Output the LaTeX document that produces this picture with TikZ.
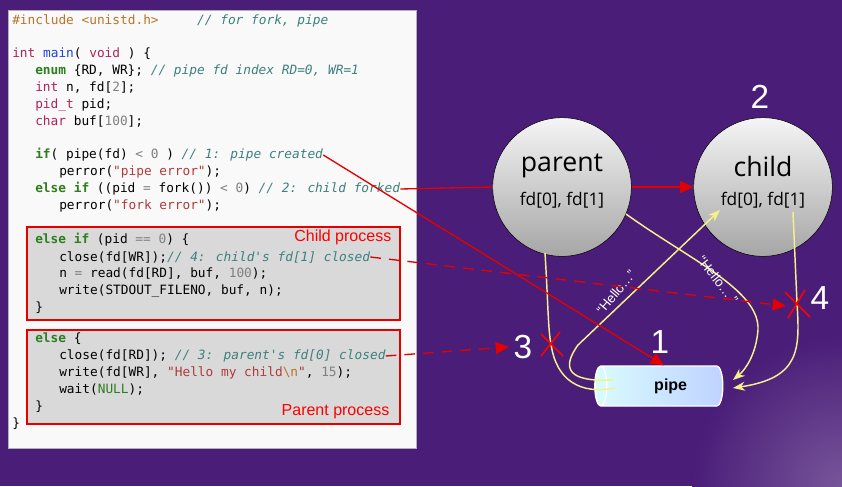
\documentclass[tikz,border=0pt]{standalone}
\usepackage{fontspec}
\setmainfont{Liberation Sans}
\newfontfamily\codefont{DejaVu Sans Mono}
\newfontfamily\lblfont{Open Sans}
\usetikzlibrary{arrows.meta,shapes.geometric}
\definecolor{bgp}{HTML}{4A1D78}
\definecolor{kw}{HTML}{2E7D1E}
\definecolor{ty}{HTML}{B0205A}
\definecolor{cm}{HTML}{3F7F7F}
\definecolor{st}{HTML}{B03A3A}
\definecolor{pp}{HTML}{B8742A}
\definecolor{nu}{HTML}{808080}
\definecolor{fn}{HTML}{2040E0}
\definecolor{yl}{HTML}{F5F08A}
\newcommand{\K}[1]{\textcolor{kw}{\bfseries #1}}
\newcommand{\T}[1]{\textcolor{ty}{#1}}
\newcommand{\C}[1]{\textcolor{cm}{\itshape #1}}
\newcommand{\Sx}[1]{\textcolor{st}{#1}}
\newcommand{\N}[1]{\textcolor{nu}{#1}}
\tikzset{
 code/.style={anchor=west,inner sep=0pt,font=\codefont\fontsize{9.6pt}{11pt}\selectfont},
 proc/.style={circle,draw=black,top color=white!92!gray,bottom color=gray!70,minimum size=104pt,inner sep=0pt},
 ptitle/.style={font=\lblfont\fontsize{20pt}{20pt}\selectfont,inner sep=0pt},
 pfd/.style={font=\lblfont\fontsize{13pt}{13pt}\selectfont,inner sep=0pt},
 redl/.style={draw=red!90!black,line width=1pt},
 yell/.style={draw=yl,line width=1.1pt},
 big/.style={text=white,font=\fontsize{25pt}{25pt}\selectfont},
 xmark/.style={draw=red,line width=1.2pt},
 lbl/.style={text=red,font=\fontsize{12pt}{12pt}\selectfont},
 hello/.style={text=white,font=\fontsize{10pt}{10pt}\selectfont,inner sep=1pt}
}
\begin{document}
\begin{tikzpicture}[x=0.75pt,y=-0.75pt]
\useasboundingbox (0,0) rectangle (842,486);
\fill[bgp] (0,0) rectangle (842,486);
\shade[inner color=bgp!75!white,outer color=bgp] (842,486) circle (150);
\filldraw[fill=white!95!gray,draw=gray!60] (8,10) rectangle (416,448);
\filldraw[fill=gray!30,draw=red!90!black,line width=1pt] (27,227) rectangle (400,320);
\filldraw[fill=gray!30,draw=red!90!black,line width=1pt] (27,330) rectangle (400,424);
\node[lbl,anchor=east] at (396,237) {Child process};
\node[lbl,anchor=east] at (394,412) {Parent process};
% code
\node[code] (l1) at (12,21) {\textcolor{pp}{\#include <unistd.h>}\ \ \ \ \ \C{// for fork, pipe}};
\node[code] at (12,54) {\T{int} \textcolor{fn}{main}( \T{void} ) \{};
\node[code] at (35,71) {\K{enum} \{RD, WR\}; \C{// pipe fd index RD=0, WR=1}};
\node[code] at (35,88) {\T{int} n, fd[\N{2}];};
\node[code] at (35,105) {\T{pid\_t} pid;};
\node[code] at (35,122) {\T{char} buf[\N{100}];};
\node[code] (l6) at (35,155) {\K{if}( pipe(fd) \N{<} \N{0} ) \C{// 1: pipe created}};
\node[code] at (59,172) {perror(\Sx{"pipe error"});};
\node[code] (l8) at (35,189) {\K{else} \K{if} ((pid \N{=} fork()) \N{<} \N{0}) \C{// 2: child forked}};
\node[code] at (59,206) {perror(\Sx{"fork error"});};
\node[code] at (35,240) {\K{else} \K{if} (pid \N{==} \N{0}) \{};
\node[code] (l11) at (59,257) {close(fd[WR]);\C{// 4: child's fd[1] closed}};
\node[code] at (59,274) {n \N{=} read(fd[RD], buf, \N{100});};
\node[code] at (59,291) {write(STDOUT\_FILENO, buf, n);};
\node[code] at (35,308) {\}};
\node[code] at (35,339) {\K{else} \{};
\node[code] (l16) at (59,356) {close(fd[RD]); \C{// 3: parent's fd[0] closed}};
\node[code] at (59,373) {write(fd[WR], \Sx{"Hello my child}\textcolor{pp}{\textbackslash n}\Sx{"}, \N{15});};
\node[code] at (59,390) {wait(\textcolor{kw}{NULL});};
\node[code] at (35,407) {\}};
\node[code] at (12,424) {\}};
% right diagram
\node[proc] (par) at (562,187) {};
\node[ptitle] (part) at (562,166) {parent};
\node[pfd] (parf) at (562,200) {fd[0], fd[1]};
\node[proc] (chi) at (763,187) {};
\node[ptitle] (chit) at (763,166) {child};
\node[pfd] (chif) at (763,200) {fd[0], fd[1]};
\node[cylinder,shape border rotate=180,aspect=0.5,draw=white,line width=1pt,left color=blue!8!cyan!15,right color=cyan!30!blue!25,minimum width=30pt,minimum height=96pt,font=\bfseries\fontsize{12pt}{12pt}\selectfont] (pipe) at (664,386) {\hspace*{10pt}pipe};
\node[big] (n2) at (760,97) {2};
\node[big] (n1) at (660,342) {1};
\node[big] (n3) at (523,347) {3};
\node[big] (n4) at (820,298) {4};
\coordinate (x3) at (551,344);
\coordinate (x4) at (797,303);
% yellow
\draw[yell] (545,253) .. controls (548,300) and (548,330) .. (x3) .. controls (556,380) and (580,395) .. (615,388);
\draw[yell,-{Stealth[length=9pt]}] (613,380) .. controls (570,382) and (560,370) .. (578,345) -- (720,210);
\draw[yell,-{Stealth[length=9pt]}] (626,214) .. controls (690,260) and (760,290) .. (758,330) .. controls (756,355) and (745,370) .. (733,380);
\draw[yell,-{Stealth[length=9pt]}] (793,212) -- (x4) .. controls (800,350) and (800,378) .. (733,388);
\node[hello,rotate=50] (h1) at (616,292) {“Hello…”};
\node[hello,rotate=-52] (h2) at (718,280) {“Hello… ”};
% red
\draw[xmark] (541,334) -- (563,356);
\draw[xmark] (541,356) -- (560,332);
\draw[xmark] (785,292) -- (810,317);
\draw[xmark] (788,318) -- (805,290);
\draw[redl] (l8.east) -- (par.west);
\draw[redl,-{Triangle[length=10pt,width=9pt]}] (par.east) -- (chi.west);
\draw[redl,-{Triangle[length=10pt,width=9pt]}] (l6.east) -- (pipe.north);
\draw[redl,dashed,dash pattern=on 8pt off 6pt,-{Triangle[length=10pt,width=9pt]}] (l11.east) -- (786,306);
\draw[redl,dashed,dash pattern=on 8pt off 6pt,-{Triangle[length=10pt,width=9pt]}] (l16.east) -- (n3.west);
\end{tikzpicture}
\end{document}
